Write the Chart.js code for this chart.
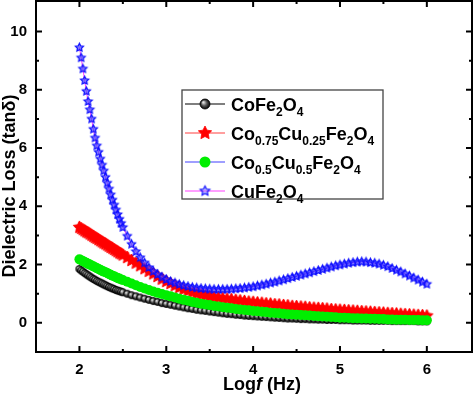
<!DOCTYPE html>
<html>
<head>
<meta charset="utf-8">
<script src="https://cdn.jsdelivr.net/npm/chart.js@4.4.1/dist/chart.umd.min.js"></script>
<style>
  html, body { margin: 0; padding: 0; background: #fff; }
  #chart { display: block; }
</style>
</head>
<body>
<canvas id="chart" width="474" height="394"></canvas>
<script>
// log10 of frequency (Hz)
const logF = [
  2.00, 2.02, 2.04, 2.06, 2.08, 2.10, 2.12, 2.14, 2.16, 2.18,
  2.20, 2.22, 2.24, 2.26, 2.28, 2.30, 2.32, 2.34, 2.36, 2.38,
  2.40, 2.42, 2.44, 2.46, 2.48, 2.50,
  2.55, 2.60, 2.65, 2.70, 2.75, 2.80, 2.85, 2.90, 2.95, 3.00,
  3.05, 3.10, 3.15, 3.20, 3.25, 3.30, 3.35, 3.40, 3.45, 3.50,
  3.55, 3.60, 3.65, 3.70, 3.75, 3.80, 3.85, 3.90, 3.95, 4.00,
  4.05, 4.10, 4.15, 4.20, 4.25, 4.30, 4.35, 4.40, 4.45, 4.50,
  4.55, 4.60, 4.65, 4.70, 4.75, 4.80, 4.85, 4.90, 4.95, 5.00,
  5.05, 5.10, 5.15, 5.20, 5.25, 5.30, 5.35, 5.40, 5.45, 5.50,
  5.55, 5.60, 5.65, 5.70, 5.75, 5.80, 5.85, 5.90, 5.95, 6.00
];

// tan delta per composition
const coFe2O4 = [
  1.85, 1.80, 1.76, 1.71, 1.67, 1.63, 1.59, 1.55, 1.51, 1.48,
  1.44, 1.41, 1.38, 1.35, 1.32, 1.29, 1.26, 1.23, 1.21, 1.18,
  1.16, 1.13, 1.11, 1.09, 1.07, 1.05,
  1.00, 0.95, 0.91, 0.87, 0.83, 0.79, 0.75, 0.72, 0.68, 0.65,
  0.62, 0.59, 0.56, 0.53, 0.50, 0.48, 0.45, 0.43, 0.41, 0.39,
  0.37, 0.35, 0.33, 0.31, 0.30, 0.28, 0.27, 0.25, 0.24, 0.23,
  0.22, 0.21, 0.20, 0.19, 0.18, 0.17, 0.16, 0.15, 0.15, 0.14,
  0.13, 0.13, 0.12, 0.12, 0.11, 0.11, 0.10, 0.10, 0.10, 0.09,
  0.09, 0.09, 0.08, 0.08, 0.08, 0.08, 0.07, 0.07, 0.07, 0.07,
  0.07, 0.06, 0.06, 0.06, 0.06, 0.06, 0.06, 0.05, 0.05, 0.05
];
const co75Cu25 = [
  3.28, 3.24, 3.20, 3.16, 3.12, 3.09, 3.05, 3.01, 2.97, 2.93,
  2.90, 2.86, 2.82, 2.78, 2.74, 2.71, 2.67, 2.63, 2.59, 2.56,
  2.52, 2.48, 2.44, 2.40, 2.37, 2.33,
  2.24, 2.14, 2.05, 1.96, 1.86, 1.77, 1.68, 1.59, 1.50, 1.42,
  1.35, 1.28, 1.21, 1.15, 1.10, 1.05, 1.01, 0.97, 0.94, 0.91,
  0.88, 0.86, 0.84, 0.82, 0.80, 0.78, 0.76, 0.74, 0.72, 0.71,
  0.69, 0.68, 0.66, 0.65, 0.63, 0.62, 0.60, 0.59, 0.57, 0.56,
  0.55, 0.54, 0.52, 0.51, 0.50, 0.49, 0.48, 0.46, 0.45, 0.44,
  0.43, 0.42, 0.41, 0.40, 0.39, 0.38, 0.37, 0.36, 0.35, 0.34,
  0.33, 0.32, 0.31, 0.30, 0.29, 0.28, 0.27, 0.26, 0.25, 0.24
];
const co5Cu5 = [
  2.18, 2.15, 2.12, 2.09, 2.06, 2.03, 2.00, 1.97, 1.94, 1.91,
  1.88, 1.85, 1.82, 1.79, 1.76, 1.74, 1.71, 1.68, 1.65, 1.62,
  1.60, 1.57, 1.54, 1.52, 1.49, 1.47,
  1.41, 1.35, 1.29, 1.23, 1.18, 1.13, 1.08, 1.03, 0.99, 0.95,
  0.91, 0.87, 0.83, 0.79, 0.76, 0.72, 0.69, 0.66, 0.63, 0.61,
  0.58, 0.56, 0.54, 0.52, 0.50, 0.48, 0.46, 0.44, 0.43, 0.41,
  0.40, 0.38, 0.37, 0.35, 0.34, 0.33, 0.31, 0.30, 0.29, 0.28,
  0.27, 0.26, 0.25, 0.24, 0.23, 0.22, 0.21, 0.20, 0.19, 0.18,
  0.18, 0.17, 0.16, 0.16, 0.15, 0.15, 0.14, 0.14, 0.13, 0.13,
  0.12, 0.12, 0.11, 0.11, 0.11, 0.10, 0.10, 0.10, 0.09, 0.09
];
const cuFe2O4 = [
  9.45, 9.10, 8.72, 8.32, 7.95, 7.60, 7.32, 7.00, 6.65, 6.35,
  6.08, 5.86, 5.63, 5.42, 5.22, 5.00, 4.80, 4.60, 4.40, 4.22,
  4.05, 3.88, 3.72, 3.56, 3.42, 3.28,
  2.98, 2.70, 2.45, 2.24, 2.06, 1.90, 1.77, 1.66, 1.57, 1.49,
  1.42, 1.37, 1.32, 1.28, 1.25, 1.22, 1.20, 1.18, 1.17, 1.16,
  1.15, 1.15, 1.15, 1.15, 1.16, 1.17, 1.18, 1.20, 1.22, 1.24,
  1.27, 1.30, 1.33, 1.37, 1.40, 1.44, 1.48, 1.52, 1.56, 1.60,
  1.64, 1.68, 1.72, 1.76, 1.80, 1.84, 1.88, 1.92, 1.96, 1.99,
  2.02, 2.05, 2.07, 2.09, 2.10, 2.09, 2.07, 2.05, 2.02, 1.98,
  1.93, 1.87, 1.81, 1.75, 1.68, 1.61, 1.54, 1.47, 1.40, 1.33
];

const seriesLabels = ['CoFe2O4', 'Co0.75Cu0.25Fe2O4', 'Co0.5Cu0.5Fe2O4', 'CuFe2O4'];
const xTicks = [2, 3, 4, 5, 6];
const yTicks = [0, 2, 4, 6, 8, 10];

const FONT = 'Arial, "Liberation Sans", sans-serif';

// marker images
function starImage(r, fill, stroke, lw) {
  const c = document.createElement('canvas');
  const s = Math.ceil(2 * r + lw * 2 + 2);
  c.width = c.height = s;
  const g = c.getContext('2d');
  g.beginPath();
  for (let i = 0; i < 10; i++) {
    const rad = i % 2 ? r * 0.5 : r;
    const a = -Math.PI / 2 + i * Math.PI / 5;
    g.lineTo(s / 2 + rad * Math.cos(a), s / 2 + rad * Math.sin(a));
  }
  g.closePath();
  if (fill) { g.fillStyle = fill; g.fill(); }
  if (stroke) { g.strokeStyle = stroke; g.lineWidth = lw; g.stroke(); }
  return c;
}
function ballImage(r) {
  const c = document.createElement('canvas');
  const s = Math.ceil(2 * r + 2);
  c.width = c.height = s;
  const g = c.getContext('2d');
  const grd = g.createRadialGradient(s / 2 - r * 0.35, s / 2 - r * 0.35, 0.5, s / 2, s / 2, r);
  grd.addColorStop(0, '#e0e0e0');
  grd.addColorStop(0.5, '#555');
  grd.addColorStop(1, '#000');
  g.beginPath();
  g.arc(s / 2, s / 2, r, 0, Math.PI * 2);
  g.fillStyle = grd;
  g.fill();
  g.lineWidth = 0.8;
  g.strokeStyle = '#000';
  g.stroke();
  return c;
}

const ballMark = ballImage(3.6);
const redStar = starImage(6.5, '#ff0000', '#ff0000', 1);
const blueStar = starImage(4.3, 'rgba(60,60,255,0.65)', '#0a0aff', 1.2);
const legendBall = ballImage(5);
const legendRedStar = starImage(7, '#ff0000', '#ff0000', 0.8);
const legendBlueStar = starImage(5, 'rgba(90,90,255,0.35)', '#1010ff', 1.2);

function pts(vals) {
  return logF.map((x, i) => ({ x: x, y: vals[i] }));
}

// draws "Co0.75Cu0.25Fe2O4" with numbers as subscripts
function drawFormula(ctx, text, x, y, size) {
  const parts = text.split(/(\d+(?:\.\d+)?)/);
  let cx = x;
  parts.forEach((p, i) => {
    if (!p) return;
    const sub = i % 2 === 1;
    ctx.font = 'bold ' + (sub ? Math.round(size * 0.68) : size) + 'px ' + FONT;
    ctx.fillText(p, cx, sub ? y + size * 0.28 : y);
    cx += ctx.measureText(p).width;
  });
}

const decorPlugin = {
  id: 'decor',
  afterDraw(chart) {
    const ctx = chart.ctx;
    const a = chart.chartArea;
    const xs = chart.scales.x, ys = chart.scales.y;
    ctx.save();

    // frame
    ctx.strokeStyle = '#000';
    ctx.lineWidth = 2;
    ctx.strokeRect(a.left, a.top, a.right - a.left, a.bottom - a.top);

    // inward ticks on all four sides
    ctx.lineWidth = 2;
    function tickX(v, len) {
      const px = xs.getPixelForValue(v);
      ctx.beginPath();
      ctx.moveTo(px, a.bottom); ctx.lineTo(px, a.bottom - len);
      ctx.moveTo(px, a.top); ctx.lineTo(px, a.top + len);
      ctx.stroke();
    }
    function tickY(v, len) {
      const py = ys.getPixelForValue(v);
      ctx.beginPath();
      ctx.moveTo(a.left, py); ctx.lineTo(a.left + len, py);
      ctx.moveTo(a.right, py); ctx.lineTo(a.right - len, py);
      ctx.stroke();
    }
    xs.ticks.forEach((t, i) => {
      tickX(t.value, 6);
      if (i < xs.ticks.length - 1) tickX((t.value + xs.ticks[i + 1].value) / 2, 3);
    });
    ys.ticks.forEach((t, i) => {
      tickY(t.value, 6);
      if (i < ys.ticks.length - 1) tickY((t.value + ys.ticks[i + 1].value) / 2, 3);
    });
    tickY(ys.ticks[0].value - 1, 3);

    // axis titles
    ctx.fillStyle = '#000';
    ctx.textBaseline = 'middle';
    ctx.save();
    ctx.translate(10, 186);
    ctx.rotate(-Math.PI / 2);
    ctx.textAlign = 'center';
    ctx.font = 'bold 18px ' + FONT;
    ctx.fillText('Dielectric Loss (tan\u03b4)', 0, 0);
    ctx.restore();

    ctx.textAlign = 'left';
    const tParts = [['Log', 'bold '], ['f', 'italic bold '], [' (Hz)', 'bold ']];
    let total = 0;
    tParts.forEach(p => { ctx.font = p[1] + '18px ' + FONT; total += ctx.measureText(p[0]).width; });
    let tx = 262 - total / 2;
    tParts.forEach(p => {
      ctx.font = p[1] + '18px ' + FONT;
      ctx.fillText(p[0], tx, 385);
      tx += ctx.measureText(p[0]).width;
    });

    // legend
    const bx = 182, by = 90, bw = 201, bh = 109;
    ctx.fillStyle = '#fff';
    ctx.fillRect(bx, by, bw, bh);
    ctx.strokeStyle = '#444';
    ctx.lineWidth = 1.3;
    ctx.strokeRect(bx, by, bw, bh);
    const lineCols = ['#000', '#ff4040', '#4040ff', '#ff40ff'];
    const marks = [legendBall, legendRedStar, null, legendBlueStar];
    seriesLabels.forEach((lab, i) => {
      const ry = by + 14 + i * 29;
      ctx.strokeStyle = lineCols[i];
      ctx.lineWidth = 1.2;
      ctx.beginPath();
      ctx.moveTo(bx + 3, ry); ctx.lineTo(bx + 43, ry);
      ctx.stroke();
      if (marks[i]) {
        ctx.drawImage(marks[i], bx + 23 - marks[i].width / 2, ry - marks[i].height / 2);
      } else {
        ctx.beginPath();
        ctx.arc(bx + 23, ry, 5.5, 0, Math.PI * 2);
        ctx.fillStyle = '#00ee00';
        ctx.fill();
      }
      ctx.fillStyle = '#000';
      ctx.textBaseline = 'alphabetic';
      drawFormula(ctx, lab, bx + 49, ry + 6.5, 18);
    });
    ctx.restore();
  }
};

new Chart(document.getElementById('chart'), {
  type: 'line',
  data: {
    datasets: [
      {
        label: seriesLabels[0], data: pts(coFe2O4), order: 4,
        borderColor: '#000', borderWidth: 1,
        pointStyle: ballMark, pointRadius: 4
      },
      {
        label: seriesLabels[1], data: pts(co75Cu25), order: 3,
        borderColor: '#ff4040', borderWidth: 1,
        pointStyle: redStar, pointRadius: 6
      },
      {
        label: seriesLabels[2], data: pts(co5Cu5), order: 2,
        borderColor: '#4040ff', borderWidth: 1,
        pointStyle: 'circle', pointRadius: 5,
        pointBackgroundColor: '#00ee00', pointBorderColor: '#00ee00', pointBorderWidth: 0
      },
      {
        label: seriesLabels[3], data: pts(cuFe2O4), order: 1,
        borderColor: '#ff40ff', borderWidth: 1,
        pointStyle: blueStar, pointRadius: 4
      }
    ]
  },
  options: {
    responsive: false,
    animation: false,
    devicePixelRatio: 1,
    layout: { autoPadding: false, padding: { top: 1, right: 2, left: 0, bottom: 0 } },
    plugins: { legend: { display: false }, tooltip: { enabled: false } },
    scales: {
      x: {
        type: 'linear', min: 1.5, max: 6.52,
        afterBuildTicks: s => { s.ticks = xTicks.map(v => ({ value: v })); },
        afterFit: s => { s.height = 42; s.paddingLeft = 0; s.paddingRight = 0; },
        grid: { display: false, drawTicks: false },
        border: { display: false },
        ticks: { color: '#000', padding: 9, font: { family: FONT, size: 15, weight: 'bold' } }
      },
      y: {
        type: 'linear', min: -1, max: 11.05,
        afterBuildTicks: s => { s.ticks = yTicks.map(v => ({ value: v })); },
        afterFit: s => { s.width = 36; s.paddingTop = 0; s.paddingBottom = 0; },
        grid: { display: false, drawTicks: false },
        border: { display: false },
        ticks: { color: '#000', padding: 9, font: { family: FONT, size: 15, weight: 'bold' } }
      }
    }
  },
  plugins: [decorPlugin]
});
</script>
</body>
</html>
